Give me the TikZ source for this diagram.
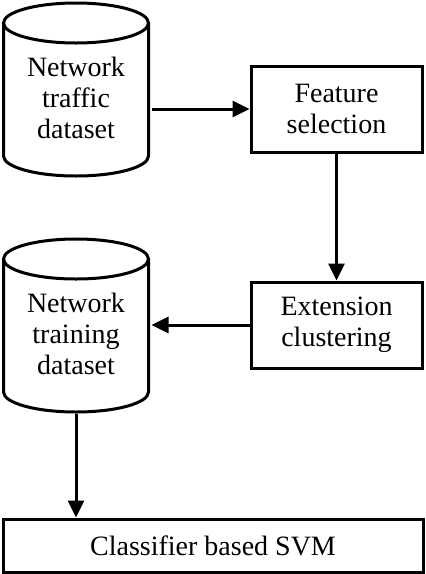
\documentclass[tikz,border=0pt]{standalone}
\usepackage{fontspec}
\setmainfont{Liberation Serif}
\usetikzlibrary{arrows.meta,positioning}

\begin{document}
\begin{tikzpicture}[x=1pt, y=1pt, >={Triangle[length=17pt,width=16pt]},
  every node/.style={font=\fontsize{28}{31}\selectfont, line width=3pt},
  box/.style={draw, align=center, minimum width=171pt, minimum height=86pt},
  db/.style={align=center, minimum width=148pt, inner sep=0pt},
  flow/.style={->, line width=3pt}]
  \useasboundingbox (0,0) rectangle (426,-574);
  \node[db] (traffic) at (76,-98) {Network\\ traffic\\ dataset};
  \node[box] (feat) at (336.5,-109) {Feature\\ selection};
  \node[box] (ext) at (336.5,-325) {Extension\\ clustering};
  \node[db] (train) at (76,-334) {Network\\ training\\ dataset};
  \node[box, minimum width=420pt, minimum height=53pt] (svm) at (213,-545.5) {Classifier based SVM};
  % cylinder outlines round the two datasets
  \foreach \n in {traffic, train} {
    \draw[line width=3pt] ([yshift=75pt]\n.center) ellipse [x radius=72.5pt, y radius=20pt];
    \draw[line width=3pt] ([shift={(-72.5pt,75pt)}]\n.center) -- ([shift={(-72.5pt,-58pt)}]\n.center)
      arc [start angle=180, end angle=360, x radius=72.5pt, y radius=20pt]
      -- ([shift={(72.5pt,75pt)}]\n.center);
  }
  \coordinate (trainbot) at ([yshift=-80pt]train.center);
  \draw[flow] (feat.west -| traffic.east) -- (feat.west);
  \draw[flow] (feat) -- (ext);
  \draw[flow] (ext.west) -- (ext.west -| train.east);
  \draw[flow] (trainbot) -- (trainbot |- svm.north);
\end{tikzpicture}
\end{document}
